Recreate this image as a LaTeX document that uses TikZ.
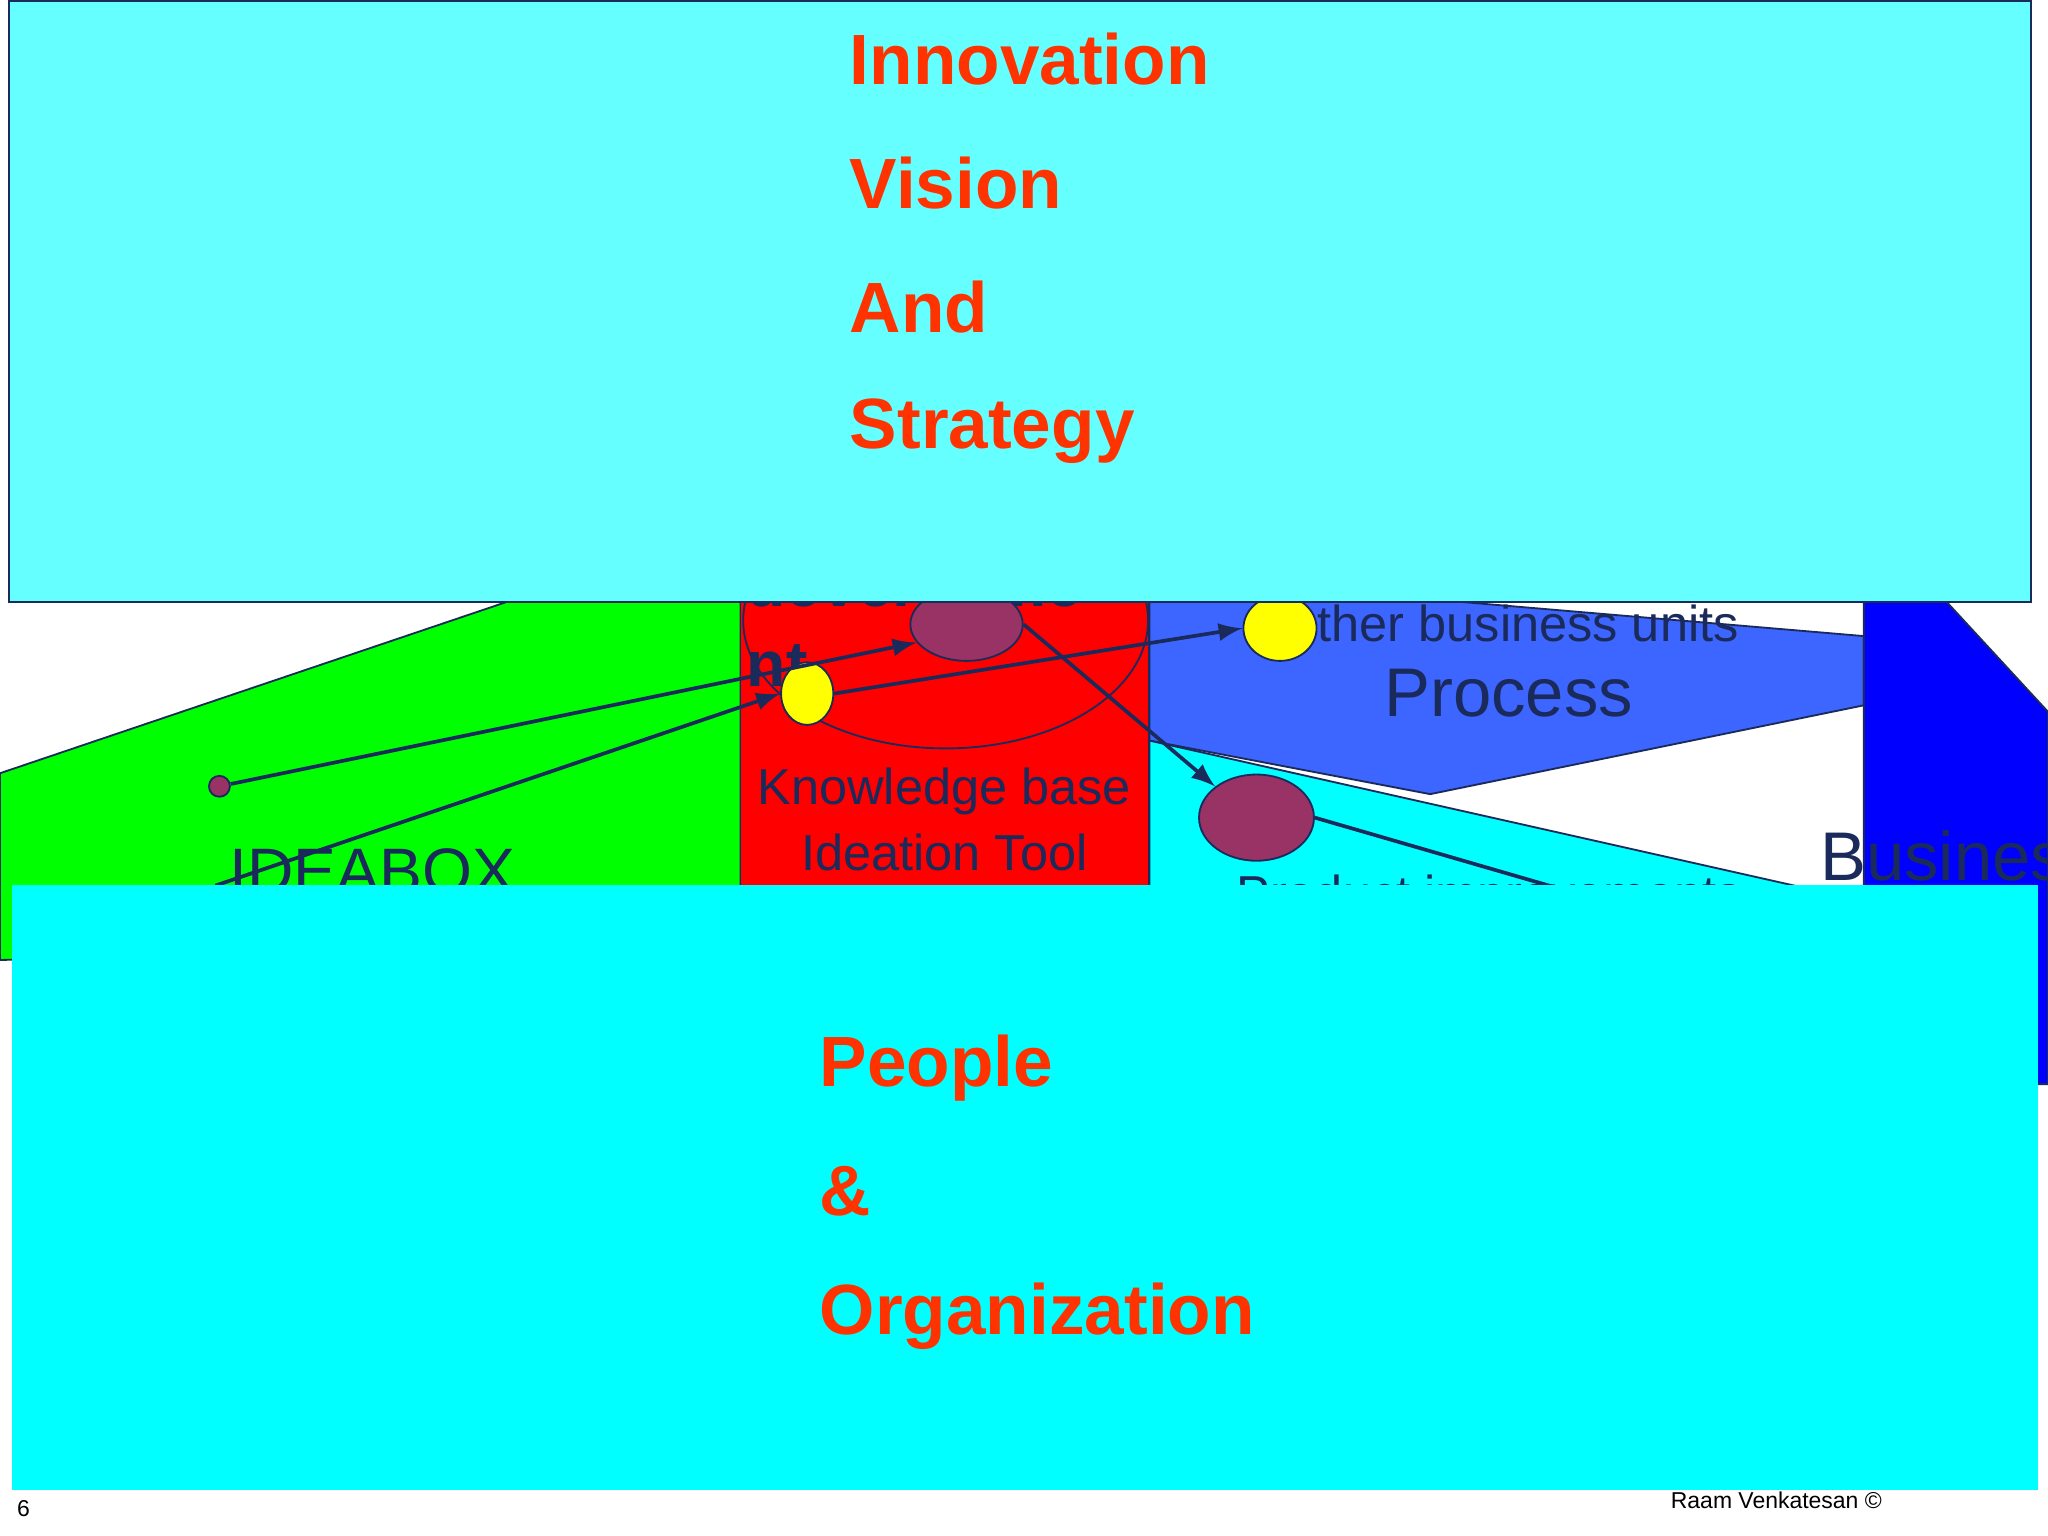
\documentclass[tikz,border=0pt]{standalone}
\usepackage{fontspec}
\usetikzlibrary{shapes.geometric}
\setmainfont{Liberation Sans}
\definecolor{navy}{RGB}{26,42,90}
\definecolor{orr}{RGB}{255,51,0}
\definecolor{maroon}{RGB}{153,51,102}
\definecolor{procblue}{RGB}{61,101,255}
\definecolor{topcyan}{RGB}{102,255,255}
\definecolor{aqua}{RGB}{0,255,255}
\definecolor{lime}{RGB}{0,255,0}
\definecolor{pureblue}{RGB}{0,0,255}
\definecolor{pyellow}{RGB}{255,255,0}
\definecolor{pred}{RGB}{255,0,0}
\begin{document}
\begin{tikzpicture}[x=0.1mm,y=-0.1mm,
  lbl/.style={text=navy,font=\fontsize{11}{13}\selectfont,inner sep=0},
  big/.style={text=orr,font=\bfseries\fontsize{15.5}{18}\selectfont,anchor=west,inner sep=0},
  arr/.style={draw=navy,thick,-latex},
  spot/.style={ellipse,draw=navy,inner sep=0}]
\useasboundingbox (0,0) rectangle (1568,1176);
\clip (0,0) rectangle (1568,1176);
\fill[white] (0,0) rectangle (1568,1176);
% background shapes
\filldraw[fill=lime,draw=navy] (0,592) -- (420,450) -- (567,450) -- (567,720) -- (0,735) -- cycle;
\filldraw[fill=pred,draw=navy] (567,450) rectangle (880,720);
\draw[navy] (724,475) ellipse (155 and 98);
\filldraw[fill=procblue,draw=navy] (880,455) -- (1050,455) -- (1427,487) -- (1427,540) -- (1095,608) -- (880,567) -- cycle;
\filldraw[fill=aqua,draw=navy] (880,567) -- (1427,690) -- (1427,720) -- (880,720) -- cycle;
\filldraw[fill=pureblue,draw=navy] (1427,455) -- (1485,455) -- (1568,545) -- (1568,830) -- (1427,830) -- cycle;
% texts
\node[lbl,font=\fontsize{14}{16}\selectfont] (idea) at (285,667) {IDEABOX};
\node[lbl] (kb) at (723,606) {Knowledge base};
\node[lbl] (it) at (723,653) {Ideation Tool};
\node[lbl] (obu) at (1170,477) {ther business units};
\node[lbl,font=\fontsize{15}{17}\selectfont] (proc) at (1155,531) {Process};
\node[lbl,font=\bfseries\fontsize{14}{16}\selectfont] (nt) at (595,510) {nt};
\node[lbl,font=\bfseries\fontsize{14}{16}\selectfont] (dev) at (700,452) {developme};
\node[lbl] (pi) at (1140,688) {Product improvements};
\node[lbl,font=\fontsize{15}{17}\selectfont,anchor=west] (bus) at (1393,655) {Busines};
% spots
\node[spot,fill=maroon,minimum width=8.6mm,minimum height=5.6mm] (m1) at (740,478) {};
\node[spot,fill=pyellow,minimum width=4mm,minimum height=4.8mm] (y1) at (618,531) {};
\node[spot,fill=pyellow,minimum width=5.6mm,minimum height=5mm] (y2) at (980,481) {};
\node[spot,fill=maroon,minimum width=8.8mm,minimum height=6.6mm] (m2) at (962,626) {};
\node[circle,draw=navy,fill=maroon,minimum size=1.6mm,inner sep=0] (d) at (168,602) {};
\coordinate (c1) at (165,678);
\coordinate (c2) at (1210,685);
% connectors
\draw[arr] (d) -- (m1.200);
\draw[arr] (c1) -- (y1.west);
\draw[arr] (y1.east) -- (y2.west);
\draw[arr] (m1.east) -- (m2.north west);
\draw[navy,thick] (m2.east) -- (c2);
% boxes
\filldraw[fill=topcyan,draw=navy] (7,1) rectangle (1555,461);
\filldraw[fill=aqua,draw=aqua] (10,678) rectangle (1560,1140);
\node[big] (t1) at (650,45) {Innovation};
\node[big] (t2) at (650,140) {Vision};
\node[big] (t3) at (650,235) {And};
\node[big] (t4) at (650,330) {Strategy};
\node[big] (b1) at (627,818) {People};
\node[big] (b2) at (627,912) {\&};
\node[big] (b3) at (627,1008) {Organization};
\node[font=\fontsize{5}{6}\selectfont,inner sep=0] (pg) at (18,1155) {6};
\node[font=\fontsize{5}{6}\selectfont,inner sep=0] (au) at (1360,1149) {Raam Venkatesan ©};
\end{tikzpicture}
\end{document}
